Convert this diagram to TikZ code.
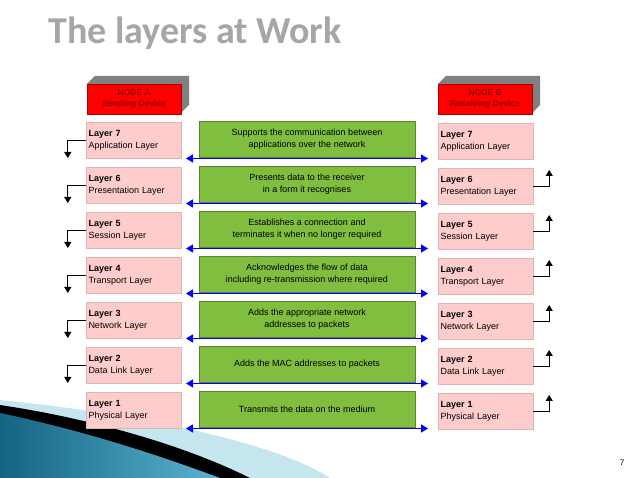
\documentclass[tikz,border=0pt]{standalone}
\usepackage{fontspec}
\setmainfont{Liberation Sans}
\newfontfamily\titlefont{Carlito}
\usetikzlibrary{arrows.meta}
\definecolor{lpink}{RGB}{255,204,204}
\definecolor{lgreen}{RGB}{128,190,64}
\definecolor{tealA}{RGB}{20,100,130}
\definecolor{tealB}{RGB}{90,180,210}
\definecolor{darkred}{RGB}{150,0,0}
\begin{document}
\begin{tikzpicture}[x=1pt,y=-1pt,
  layer/.style={draw=lpink!70!gray,fill=lpink,minimum width=95pt,minimum height=36pt,inner sep=2pt,align=left,font=\fontsize{9}{12}\selectfont,text width=90pt},
  gbox/.style={draw=lgreen!70!black,fill=lgreen,minimum width=216pt,minimum height=36pt,align=center,font=\fontsize{9}{12}\selectfont},
  dev/.style={draw=red!70!black,fill=red,minimum width=94pt,minimum height=30pt,align=center,font=\fontsize{8.5}{11}\selectfont,text=darkred},
  link/.style={blue,line width=1.2pt,{Triangle[length=7pt,width=8pt]}-{Triangle[length=7pt,width=8pt]}},
  turn/.style={black,line width=0.8pt,-{Triangle[length=6pt,width=7pt]}}]
\useasboundingbox (0,0) rectangle (638,478);
% background swoosh
\fill[tealB!35] (0,400) .. controls (150,415) and (280,445) .. (330,478) -- (0,478) -- cycle;
\fill[black] (0,405) .. controls (100,420) and (190,448) .. (250,478) -- (0,478) -- cycle;
\shade[left color=tealA,right color=tealB] (0,413) .. controls (80,430) and (150,452) .. (220,478) -- (0,478) -- cycle;
% title
\node[anchor=west,font=\titlefont\bfseries\fontsize{38}{40}\selectfont,text=gray!70] (title) at (45,33) {The layers at Work};
\node[font=\fontsize{8}{9}\selectfont] (pg) at (622,463) {7};
% devices
\fill[gray] (87,84) -- (95,76) -- (189,76) -- (189,105) -- (181,113) -- (181,84) -- cycle;
\node[dev,anchor=north west] (nA) at (87,84) {\textbf{NODE A}\\\textbf{Sending Device}};
\fill[gray] (438,84) -- (446,76) -- (540,76) -- (540,105) -- (532,113) -- (532,84) -- cycle;
\node[dev,anchor=north west] (nB) at (438,84) {\textbf{NODE B}\\\textbf{Receiving Device}};
% layers
\foreach \i/\n/\t/\y in {7/Application Layer/Supports the communication between\\applications over the network/140,
  6/Presentation Layer/Presents data to the receiver\\in a form it recognises/185,
  5/Session Layer/Establishes a connection and\\terminates it when no longer required/230,
  4/Transport Layer/Acknowledges the flow of data\\including re-transmission where required/275,
  3/Network Layer/Adds the appropriate network\\addresses to packets/320,
  2/Data Link Layer/Adds the MAC addresses to packets/365,
  1/Physical Layer/Transmits the data on the medium/410}{
  \node[layer] (L\i) at (133.5,\y) {\textbf{Layer \i}\\\n};
  \node[layer] (R\i) at (485.5,\y+1) {\textbf{Layer \i}\\\n};
  \node[gbox] (G\i) at (307,\y-0.5) {\t};
  \coordinate (al\i) at (186,\y+18.5);
  \coordinate (ar\i) at (428,\y+18.5);
  \draw[link] (al\i) -- (ar\i);
}
\foreach \i in {7,6,5,4,3,2}{
  \draw[turn] (L\i.west) -- ++(-18,0) coordinate (c\i) -- ++(0,18);
}
\foreach \i in {6,5,4,3,2,1}{
  \draw[turn] (R\i.east) -- ++(16,0) -- ++(0,-16);
}
\end{tikzpicture}
\end{document}
